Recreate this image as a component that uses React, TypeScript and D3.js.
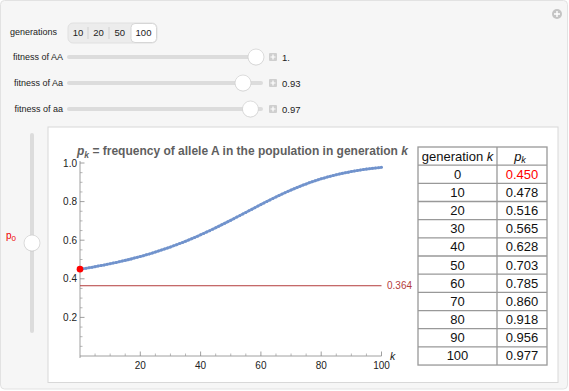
import React from "react";
import * as d3 from "d3";

// ---- data ----
const generationOptions = ["10", "20", "50", "100"];
const selectedGeneration = "100";
const fitnessLabels = ["fitness of AA", "fitness of Aa", "fitness of aa"];
const fitnessValues = [1.0, 0.93, 0.97];
const fitnessValueText = ["1.", "0.93", "0.97"];
const p0 = 0.45;
const equilibrium = 0.364;
// p_k for k = 0..100
const pk = [
  0.4500, 0.4525, 0.4550, 0.4576, 0.4603, 0.4630, 0.4659, 0.4688, 0.4718, 0.4749,
  0.4781, 0.4814, 0.4848, 0.4882, 0.4918, 0.4955, 0.4993, 0.5032, 0.5072, 0.5113,
  0.5156, 0.5200, 0.5244, 0.5290, 0.5338, 0.5386, 0.5436, 0.5487, 0.5540, 0.5594,
  0.5650, 0.5707, 0.5765, 0.5824, 0.5885, 0.5948, 0.6011, 0.6076, 0.6143, 0.6211,
  0.6280, 0.6351, 0.6422, 0.6495, 0.6570, 0.6645, 0.6721, 0.6799, 0.6877, 0.6956,
  0.7034, 0.7115, 0.7196, 0.7277, 0.7359, 0.7441, 0.7523, 0.7605, 0.7687, 0.7768,
  0.7850, 0.7930, 0.8010, 0.8088, 0.8166, 0.8242, 0.8317, 0.8391, 0.8463, 0.8533,
  0.8600, 0.8667, 0.8732, 0.8795, 0.8856, 0.8915, 0.8972, 0.9027, 0.9080, 0.9130,
  0.9180, 0.9226, 0.9271, 0.9313, 0.9353, 0.9392, 0.9428, 0.9463, 0.9496, 0.9527,
  0.9560, 0.9588, 0.9614, 0.9638, 0.9661, 0.9683, 0.9704, 0.9723, 0.9741, 0.9758,
  0.9774,
];
const tableGenerations = [0, 10, 20, 30, 40, 50, 60, 70, 80, 90, 100];
const tableValues = ["0.450", "0.478", "0.516", "0.565", "0.628", "0.703", "0.785", "0.860", "0.918", "0.956", "0.977"];
const xMajorTicks = [20, 40, 60, 80, 100];
const yMajorTicks = [0.2, 0.4, 0.6, 0.8, 1.0];

const FONT = "'Liberation Sans', Arial, sans-serif";
const BLUE = "rgb(112,146,204)";
const DARKRED = "rgb(180,60,60)";

function Slider({ y, label, value, text }: { y: number; label: string; value: number; text: string }) {
  const sx = d3.scaleLinear().domain([0.93, 1.0]).range([243, 256]);
  return (
    <g>
      <text x={63} y={y + 3} textAnchor="end" fontSize={9} fontFamily={FONT} fill="#222">{label}</text>
      <rect x={67} y={y - 2} width={196} height={4} rx={2} fill="#dcdcdc" />
      <circle cx={sx(value)} cy={y + 0.5} r={8} fill="#000" opacity={0.08} />
      <circle cx={sx(value)} cy={y} r={8} fill="#fff" stroke="#cfcfcf" strokeWidth={0.7} />
      <rect x={269} y={y - 4} width={8} height={8} rx={1} fill="#cfcfcf" />
      <path d={`M${273},${y - 2.5}V${y + 2.5}M${270.5},${y}H${275.5}`} stroke="#fff" strokeWidth={1.2} />
      <text x={282} y={y + 3.5} fontSize={9.5} fontFamily={FONT} fill="#222">{text}</text>
    </g>
  );
}

export default function App() {
  const x = d3.scaleLinear().domain([0, 100]).range([80, 381.5]);
  const y = d3.scaleLinear().domain([0, 1]).range([356, 163]);
  const xMinor = d3.range(5, 101, 5).filter((v) => v % 20 !== 0);
  const yMinor = d3.range(0.05, 1.001, 0.05).filter((v) => Math.abs((v * 10) % 2) > 0.01 && Math.abs((v * 10) % 2 - 2) > 0.01);

  const btnX = [68, 88, 109, 130.5, 156.5];
  const rowH = 18.17;
  const tTop = 147;
  const tLeft = 418, tMid = 497, tRight = 547;

  return (
    <div style={{ position: "fixed", left: 0, top: 0 }}>
      <svg width={569} height={391} style={{ display: "block" }}>
        <rect x={0} y={0} width={569} height={391} fill="#fff" />
        <rect x={0.5} y={0.5} width={567} height={388.5} rx={4} fill="#f6f6f6" stroke="#e2e2e2" />
        {/* top-right icon */}
        <circle cx={557} cy={14} r={5} fill="#c4c4c4" />
        <path d="M557,11V17M554,14H560" stroke="#fff" strokeWidth={1.4} />

        {/* generations */}
        <text x={10} y={35} fontSize={9} fontFamily={FONT} fill="#222">generations</text>
        <rect x={68} y={23} width={89} height={20} rx={5} fill="#ececec" stroke="#e0e0e0" />
        <rect x={131} y={23.5} width={25.5} height={19} rx={4} fill="#fff" stroke="#d6d6d6" />
        {[88, 109].map((d) => (
          <line key={d} x1={d} x2={d} y1={27} y2={39} stroke="#d0d0d0" />
        ))}
        {generationOptions.map((g, i) => (
          <text key={g} x={(btnX[i] + btnX[i + 1]) / 2} y={36} textAnchor="middle" fontSize={9.5} fontFamily={FONT} fill="#222">{g}</text>
        ))}

        {fitnessLabels.map((l, i) => (
          <Slider key={l} y={57 + i * 26} label={l} value={fitnessValues[i]} text={fitnessValueText[i]} />
        ))}

        {/* p0 vertical slider */}
        <rect x={30} y={133} width={4} height={200} rx={2} fill="#dcdcdc" />
        <circle cx={32} cy={243.5} r={8} fill="#000" opacity={0.08} />
        <circle cx={32} cy={243} r={8} fill="#fff" stroke="#cfcfcf" strokeWidth={0.7} />
        <text x={6} y={239} fontSize={10} fontFamily={FONT} fill="#e00">p<tspan fontSize={8} dy={1.5}>0</tspan></text>

        {/* white pane */}
        <rect x={48} y={127} width={510} height={255.5} fill="#fff" stroke="#d8d8d8" />

        {/* title */}
        <text x={77} y={155} fontSize={12} fontWeight="bold" fontFamily={FONT} fill="#5f5f5f">
          <tspan fontStyle="italic">p</tspan>
          <tspan fontStyle="italic" fontSize={8.5} dy={2.5}>k</tspan>
          <tspan dy={-2.5}> = frequency of allele A in the population in generation </tspan>
          <tspan fontStyle="italic">k</tspan>
        </text>

        {/* axes */}
        <line x1={x(0)} x2={x(100)} y1={y(0)} y2={y(0)} stroke="#888" strokeWidth={0.8} />
        <line x1={x(0)} x2={x(0)} y1={y(0) + 2} y2={y(1) - 2} stroke="#888" strokeWidth={0.8} />
        {xMajorTicks.map((t) => (
          <g key={t}>
            <line x1={x(t)} x2={x(t)} y1={y(0)} y2={y(0) - 4.5} stroke="#888" strokeWidth={0.8} />
            <text x={x(t)} y={y(0) + 13} textAnchor="middle" fontSize={10} fontFamily={FONT} fill="#222">{t}</text>
          </g>
        ))}
        {xMinor.map((t) => (
          <line key={t} x1={x(t)} x2={x(t)} y1={y(0)} y2={y(0) - 2.5} stroke="#999" strokeWidth={0.7} />
        ))}
        {yMajorTicks.map((t) => (
          <g key={t}>
            <line x1={x(0)} x2={x(0) + 4.5} y1={y(t)} y2={y(t)} stroke="#888" strokeWidth={0.8} />
            <text x={x(0) - 3} y={y(t) + 3.5} textAnchor="end" fontSize={10} fontFamily={FONT} fill="#222">{t.toFixed(1)}</text>
          </g>
        ))}
        {yMinor.map((t) => (
          <line key={t} x1={x(0)} x2={x(0) + 2.5} y1={y(t)} y2={y(t)} stroke="#999" strokeWidth={0.7} />
        ))}
        <text x={390} y={360} fontSize={10.5} fontStyle="italic" fontFamily={FONT} fill="#222">k</text>

        {/* equilibrium line */}
        <line x1={x(0)} x2={x(100)} y1={y(equilibrium)} y2={y(equilibrium)} stroke={DARKRED} strokeWidth={1} />
        <text x={387} y={y(equilibrium) + 3.5} fontSize={10} fontFamily={FONT} fill={DARKRED}>{equilibrium.toFixed(3)}</text>

        {/* curve */}
        <path d={d3.line<number>().x((_, i) => x(i)).y((d) => y(d))(pk) || ""} fill="none" stroke={BLUE} strokeWidth={2.6} opacity={0.9} />
        {pk.map((v, i) => (
          <circle key={i} cx={x(i)} cy={y(v)} r={1.5} fill={BLUE} />
        ))}
        <circle cx={x(0)} cy={y(p0)} r={3.3} fill="#f00" />

        {/* table */}
        <g fontFamily={FONT} fontSize={13} fill="#111">
          <rect x={tLeft} y={tTop} width={tRight - tLeft} height={rowH * 12} fill="#fff" stroke="#999" strokeWidth={1.3} />
          <line x1={tMid} x2={tMid} y1={tTop} y2={tTop + rowH * 12} stroke="#999" strokeWidth={1.3} />
          {d3.range(1, 12).map((r) => (
            <line key={r} x1={tLeft} x2={tRight} y1={tTop + r * rowH} y2={tTop + r * rowH} stroke="#999" strokeWidth={1.3} />
          ))}
          <text x={(tLeft + tMid) / 2} y={tTop + 13.5} textAnchor="middle">generation <tspan fontStyle="italic">k</tspan></text>
          <text x={(tMid + tRight) / 2 - 2} y={tTop + 13.5} textAnchor="middle" fontStyle="italic">p<tspan fontSize={9} dy={2.5}>k</tspan></text>
          {tableGenerations.map((g, i) => (
            <g key={g}>
              <text x={(tLeft + tMid) / 2} y={tTop + (i + 1) * rowH + 13.5} textAnchor="middle">{g}</text>
              <text x={(tMid + tRight) / 2} y={tTop + (i + 1) * rowH + 13.5} textAnchor="middle" fill={i === 0 ? "#f00" : "#111"}>{tableValues[i]}</text>
            </g>
          ))}
        </g>
      </svg>
    </div>
  );
}
